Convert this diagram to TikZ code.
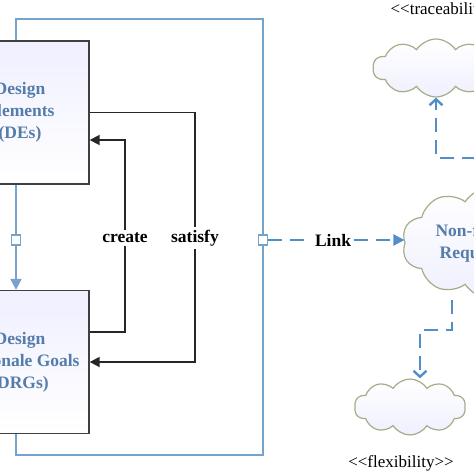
\documentclass[tikz,border=0pt]{standalone}
\usepackage{fontspec}
\setmainfont{Liberation Serif}
\usetikzlibrary{arrows.meta,shapes.symbols}
\definecolor{framecol}{RGB}{118,163,203}
\definecolor{linkcol}{RGB}{82,142,200}
\definecolor{textcol}{RGB}{85,125,170}
\definecolor{cloudcol}{RGB}{165,172,135}

\begin{document}
\begin{tikzpicture}[x=1pt, y=-1pt,
    font=\fontsize{17}{22}\selectfont,
  block/.style = {shape=rectangle, draw=black!75, line width=1.4pt,
    align=center, top color=blue!6, bottom color=white, text=textcol,
    font=\fontsize{17.5}{22}\selectfont\bfseries,
    minimum width=138pt, minimum height=143pt},
  req/.style = {shape=cloud, cloud puffs=10, cloud puff arc=115, aspect=2,
    draw=cloudcol, line width=1.2pt, inner sep=0pt, align=center,
    top color=white, bottom color=blue!6, text=textcol,
    font=\fontsize{17.5}{22}\selectfont\bfseries},
  port/.style = {shape=rectangle, draw=framecol, fill=white, line width=1.4pt,
    inner sep=0pt, minimum width=9pt, minimum height=10pt},
  frame/.style = {draw=framecol, line width=2pt},
  flow/.style = {draw=black!85, line width=1.8pt},
  link/.style = {draw=linkcol, line width=2.4pt, dash pattern=on 14pt off 8pt},
  tag/.style = {inner sep=3pt, font=\fontsize{17.5}{22}\selectfont\bfseries}]
  \useasboundingbox (0,0) rectangle (474,474);
  % design side
  \node[block] (de) at (20,112.5) {Design\\Elements\\(DEs)};
  \node[block] (drg) at (20,362) {Design\\Rationale Goals\\(DRGs)};
  \node[tag] (create) at (125,238) {create};
  \node[tag] (satisfy) at (195,238) {satisfy};
  \draw[flow, -{Triangle[length=10pt,width=10pt]}]
    (de.east) -| (satisfy) |- (drg.east);
  \draw[flow, -{Triangle[length=10pt,width=10pt]}]
    ([yshift=30pt]drg.east) -| (create) |- ([yshift=-27.5pt]de.east);
  % package frame
  \coordinate (tr) at (263,19);
  \coordinate (br) at (263,455);
  \node[port] (sqL) at (16,240) {};
  \node[port] (sqR) at (263,240) {};
  \draw[frame] (de.north -| sqL) |- (tr) -- (sqR);
  \draw[frame] (sqR) -- (br) -| (drg.south -| sqL);
  \draw[frame] (de.south -| sqL) -- (sqL);
  \draw[frame, -{Triangle[length=11pt,width=11pt]}] (sqL) -- (drg.north -| sqL);
  % requirements side
  \node[req, minimum width=180pt, minimum height=112pt] (nfr) at (492,243)
    {Non-functional\\Requirements};
  \node[req, minimum width=126pt, minimum height=58pt] (trace) at (436,68) {};
  \node[req, minimum width=111pt, minimum height=56pt] (flex) at (410,407) {};
  \node (tracetag) at (448,10) {<\kern0pt<traceability>\kern0pt>};
  \node (flextag) at (401,463) {<\kern0pt<flexibility>\kern0pt>};
  \node[tag] (link) at (333,240) {Link};
  \draw[link] (sqR) -- (link);
  \draw[link, -{Triangle[length=11pt,width=11pt]}] (link) -- (nfr.west |- sqR);
  \coordinate (tbend) at (436,158);
  \coordinate (fbend) at (420,330);
  \draw[link, -{Straight Barb[length=6pt,width=13pt]}]
    (nfr.north) |- (tbend) -- (trace.south);
  \draw[link, -{Straight Barb[length=6pt,width=13pt]}]
    ([xshift=-40pt]nfr.south) |- (fbend) -- (flex.north -| fbend);
\end{tikzpicture}
\end{document}
